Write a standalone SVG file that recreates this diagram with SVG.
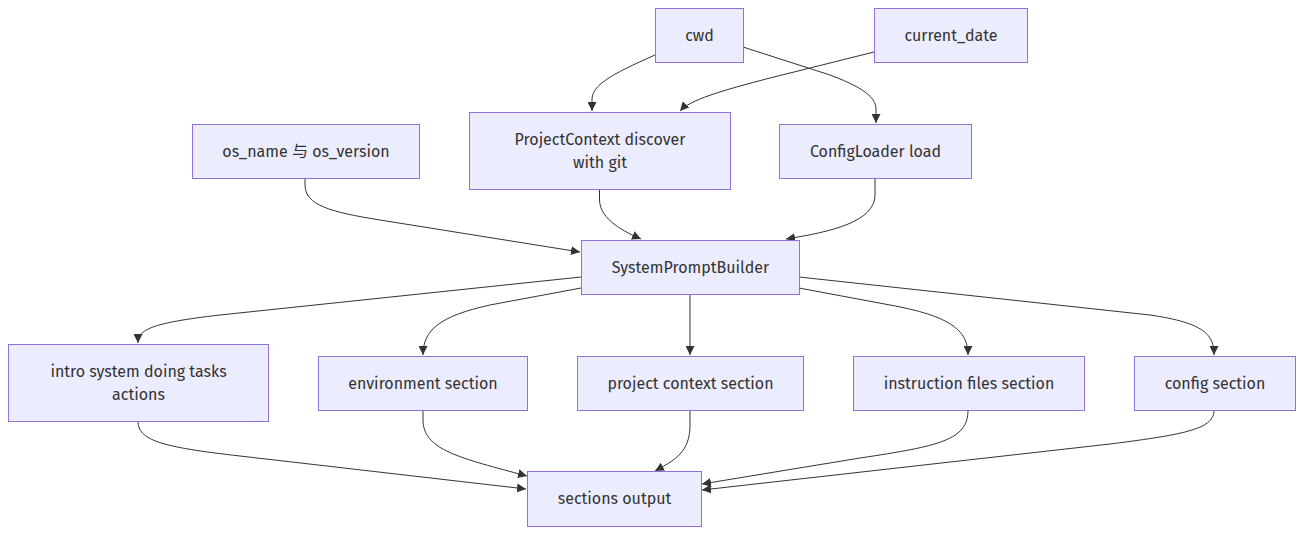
<svg xmlns="http://www.w3.org/2000/svg" width="1303" height="534" viewBox="0 0 1303 534">
<style>
.node rect{fill:#ECECFF;stroke:#9370DB;stroke-width:1}
.node text{font-family:"Fira Sans","Noto Sans","Noto Sans CJK SC",sans-serif;font-size:16px;fill:#333;text-anchor:middle;dominant-baseline:central}
.edges path{fill:none;stroke:#333;stroke-width:1;marker-end:url(#arrow)}
</style>
<defs>
<marker id="arrow" viewBox="0 0 10 10" refX="10" refY="5" markerWidth="9" markerHeight="9" markerUnits="userSpaceOnUse" orient="auto">
<path d="M0,0 L10,5 L0,10 z" fill="#333"/>
</marker>
</defs>
<rect width="1303" height="534" fill="#fff"/>
<g class="edges">
<path d="M655,55 C610,75 592,85 592,100 L592,111"/>
<path d="M874,52 L770,78 C720,91 690,100 680,111"/>
<path d="M743,47 L830,75 C870,90 876,100 876,110 L876,123"/>
<path d="M305,178 L305,185 C305,205 330,212 380,220 L580,252"/>
<path d="M599.5,189 L599.5,200 C600,220 625,232 641,239"/>
<path d="M875,178 L875,195 C875,222 830,232 786,239"/>
<path d="M581,277 L220,315 C150,323 138,330 138,343"/>
<path d="M581,288 L490,305 C440,316 423,330 423,355"/>
<path d="M690,294 L690,355"/>
<path d="M799,288 L890,305 C950,316 968,330 968,355"/>
<path d="M799,277 L1150,315 C1205,323 1214,335 1214,355"/>
<path d="M138,421 C138,440 160,447 240,456 L526,489"/>
<path d="M423,410 L423,420 C423,450 460,458 527,476"/>
<path d="M690,410 L690,425 C690,452 675,460 655,471"/>
<path d="M968,410 C968,440 940,446 860,458 L702,484"/>
<path d="M1214,410 C1214,428 1190,434 1110,444 L702,490"/>
</g>
<g id="cwd" class="node"><rect x="655.5" y="8.5" width="88" height="54"/><text x="699.5" y="35">cwd</text></g>
<g id="current_date" class="node"><rect x="874.5" y="8.5" width="153" height="54"/><text x="951" y="35">current_date</text></g>
<g id="os_info" class="node"><rect x="192.5" y="124.5" width="227" height="54"/><text x="306" y="151">os_name 与 os_version</text></g>
<g id="project_context" class="node"><rect x="469.5" y="112.5" width="261" height="77"/><text x="600" y="139">ProjectContext discover</text><text x="600" y="162">with git</text></g>
<g id="config_loader" class="node"><rect x="779.5" y="124.5" width="192" height="54"/><text x="875.5" y="151">ConfigLoader load</text></g>
<g id="builder" class="node"><rect x="581.5" y="240.5" width="218" height="54"/><text x="690.5" y="267">SystemPromptBuilder</text></g>
<g id="intro" class="node"><rect x="8.5" y="344.5" width="260" height="77"/><text x="138.5" y="371">intro system doing tasks</text><text x="138.5" y="394">actions</text></g>
<g id="environment" class="node"><rect x="318.5" y="356.5" width="209" height="54"/><text x="423" y="383">environment section</text></g>
<g id="project_section" class="node"><rect x="577.5" y="356.5" width="226" height="54"/><text x="690.5" y="383">project context section</text></g>
<g id="instruction" class="node"><rect x="853.5" y="356.5" width="231" height="54"/><text x="969" y="383">instruction files section</text></g>
<g id="config" class="node"><rect x="1134.5" y="356.5" width="161" height="54"/><text x="1215" y="383">config section</text></g>
<g id="output" class="node"><rect x="527.5" y="471.5" width="174" height="55"/><text x="614.5" y="498">sections output</text></g>
</svg>
